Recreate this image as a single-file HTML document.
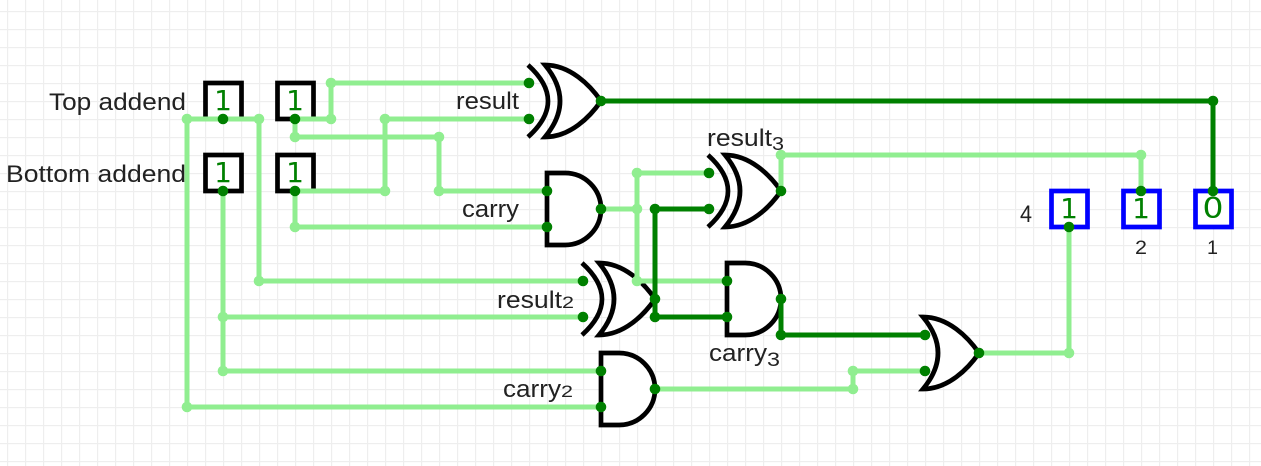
<!DOCTYPE html>
<html><head><meta charset="utf-8"><style>
html,body{margin:0;padding:0;background:#fff;overflow:hidden}
svg{display:block}
.lbl{font-family:"Liberation Sans",sans-serif;fill:#222;font-size:24.5px}
.val{font-family:"DejaVu Sans",sans-serif;fill:#008000;font-size:28px;text-anchor:middle}
.gate{fill:#fff;stroke:#000;stroke-width:4.7;stroke-linejoin:miter}
.lw{fill:none;stroke:#90ee90;stroke-width:5}
.dw{fill:none;stroke:#008000;stroke-width:5}
</style></head><body>
<svg width="1261" height="466" viewBox="0 0 1261 466" xmlns="http://www.w3.org/2000/svg">
<defs>
<pattern id="g" x="7" y="11" width="18" height="18" patternUnits="userSpaceOnUse">
<rect x="0" y="0" width="1.2" height="18" fill="#eee"/><rect x="0" y="0" width="18" height="1.2" fill="#eee"/>
</pattern>
<g id="orb"><path class="gate" d="M545,65 C570,65 590,85 601,101 C590,117 570,137 545,137 Q575,101 545,65 Z"/></g>
<g id="xor"><use href="#orb"/><path class="gate" style="fill:none" d="M528,65 Q568,101 528,137"/></g>
<path id="and" class="gate" d="M547,173 H565 A36,36 0 0 1 565,245 H547 Z"/>
</defs>
<rect width="1261" height="466" fill="#fff"/>
<rect width="1261" height="466" fill="url(#g)"/>

<use href="#xor"/>
<use href="#xor" transform="translate(180,90)"/>
<use href="#xor" transform="translate(54,198)"/>
<use href="#orb" transform="translate(378,252)"/>
<use href="#and"/>
<use href="#and" transform="translate(180,90)"/>
<use href="#and" transform="translate(54,180)"/>

<g fill="#fff" stroke="#000" stroke-width="4.7">
<rect x="205.5" y="83" width="36" height="36"/>
<rect x="277.5" y="83" width="36" height="36"/>
<rect x="205.5" y="155" width="36" height="36"/>
<rect x="277.5" y="155" width="36" height="36"/>
</g>
<g fill="#fff" stroke="#00f" stroke-width="4.7">
<rect x="1051.5" y="191" width="36" height="36"/>
<rect x="1123.5" y="191" width="36" height="36"/>
<rect x="1195.5" y="191" width="36" height="36"/>
</g>

<text class="val" x="223" y="110">1</text>
<text class="val" x="295" y="110">1</text>
<text class="val" x="223" y="182">1</text>
<text class="val" x="295" y="182">1</text>
<text class="val" x="1069" y="218">1</text>
<text class="val" x="1141" y="218">1</text>
<text class="val" x="1202.5" y="218" style="text-anchor:start;font-size:28.5px" textLength="21" lengthAdjust="spacingAndGlyphs">0</text>

<g class="lbl">
<text x="49" y="110" textLength="137" lengthAdjust="spacingAndGlyphs">Top addend</text>
<text x="6" y="182" textLength="180" lengthAdjust="spacingAndGlyphs">Bottom addend</text>
<text x="456" y="109" textLength="63" lengthAdjust="spacingAndGlyphs">result</text>
<text x="462" y="217" textLength="57" lengthAdjust="spacingAndGlyphs">carry</text>
<text x="707" y="146" textLength="65" lengthAdjust="spacingAndGlyphs">result</text>
<text x="772" y="150" textLength="12" lengthAdjust="spacingAndGlyphs" style="font-size:18px">3</text>
<text x="497" y="308" textLength="65" lengthAdjust="spacingAndGlyphs">result</text>
<text x="562" y="308" textLength="12" lengthAdjust="spacingAndGlyphs" style="font-size:17px">2</text>
<text x="503" y="397" textLength="58" lengthAdjust="spacingAndGlyphs">carry</text>
<text x="561" y="397" textLength="12" lengthAdjust="spacingAndGlyphs" style="font-size:17px">2</text>
<text x="709" y="361" textLength="58" lengthAdjust="spacingAndGlyphs">carry</text>
<text x="767" y="366" textLength="13" lengthAdjust="spacingAndGlyphs" style="font-size:19px">3</text>
<text x="1020" y="222" textLength="12" lengthAdjust="spacingAndGlyphs" style="font-size:24px">4</text>
<text x="1135" y="254" textLength="12" lengthAdjust="spacingAndGlyphs" style="font-size:19px">2</text>
<text x="1207" y="254" textLength="11" lengthAdjust="spacingAndGlyphs" style="font-size:19.5px">1</text>
</g>

<g class="lw">
<path d="M187,119 H259 M187,119 V407 H601"/>
<path d="M259,119 V281 H583"/>
<path d="M223,191 V371 H601 M223,317 H583"/>
<path d="M295,119 H331 V83 H529"/>
<path d="M295,119 V137 H439 V191 H547"/>
<path d="M295,191 H385 V119 H529"/>
<path d="M295,191 V227 H547"/>
<path d="M601,209 H637 M709,173 H637 V281 H727"/>
<path d="M781,191 V155 H1141 V191"/>
<path d="M655,389 H853 V371 H925"/>
<path d="M979,353 H1069 V227"/>
</g>
<g class="dw">
<path d="M601,101 H1213 V191"/>
<path d="M709,209 H655 V317 H727"/>
<path d="M781,299 V335 H925"/>
</g>

<g fill="#90ee90">
<circle cx="187" cy="119" r="5.3"/><circle cx="259" cy="119" r="5.3"/><circle cx="331" cy="83" r="5.3"/><circle cx="331" cy="119" r="5.3"/>
<circle cx="295" cy="137" r="5.3"/><circle cx="385" cy="119" r="5.3"/><circle cx="439" cy="137" r="5.3"/><circle cx="385" cy="191" r="5.3"/>
<circle cx="439" cy="191" r="5.3"/><circle cx="295" cy="227" r="5.3"/><circle cx="259" cy="281" r="5.3"/><circle cx="223" cy="317" r="5.3"/>
<circle cx="223" cy="371" r="5.3"/><circle cx="187" cy="407" r="5.3"/><circle cx="637" cy="173" r="5.3"/><circle cx="637" cy="209" r="5.3"/>
<circle cx="637" cy="281" r="5.3"/><circle cx="781" cy="155" r="5.3"/><circle cx="1141" cy="155" r="5.3"/><circle cx="853" cy="371" r="5.3"/>
<circle cx="853" cy="389" r="5.3"/><circle cx="1069" cy="353" r="5.3"/>
</g>
<g fill="#008000">
<circle cx="223" cy="119" r="5.3"/><circle cx="295" cy="119" r="5.3"/><circle cx="223" cy="191" r="5.3"/><circle cx="295" cy="191" r="5.3"/>
<circle cx="529" cy="83" r="5.3"/><circle cx="529" cy="119" r="5.3"/><circle cx="601" cy="101" r="5.3"/>
<circle cx="547" cy="191" r="5.3"/><circle cx="547" cy="227" r="5.3"/><circle cx="601" cy="209" r="5.3"/>
<circle cx="709" cy="173" r="5.3"/><circle cx="709" cy="209" r="5.3"/><circle cx="781" cy="191" r="5.3"/>
<circle cx="583" cy="281" r="5.3"/><circle cx="583" cy="317" r="5.3"/><circle cx="655" cy="299" r="5.3"/>
<circle cx="727" cy="281" r="5.3"/><circle cx="727" cy="317" r="5.3"/><circle cx="781" cy="299" r="5.3"/>
<circle cx="601" cy="371" r="5.3"/><circle cx="601" cy="407" r="5.3"/><circle cx="655" cy="389" r="5.3"/>
<circle cx="925" cy="335" r="5.3"/><circle cx="925" cy="371" r="5.3"/><circle cx="979" cy="353" r="5.3"/>
<circle cx="1069" cy="227" r="5.3"/><circle cx="1141" cy="191" r="5.3"/><circle cx="1213" cy="191" r="5.3"/>
<circle cx="1213" cy="101" r="5.3"/><circle cx="655" cy="209" r="5.3"/><circle cx="655" cy="317" r="5.3"/><circle cx="781" cy="335" r="5.3"/>
</g>
</svg>
</body></html>
